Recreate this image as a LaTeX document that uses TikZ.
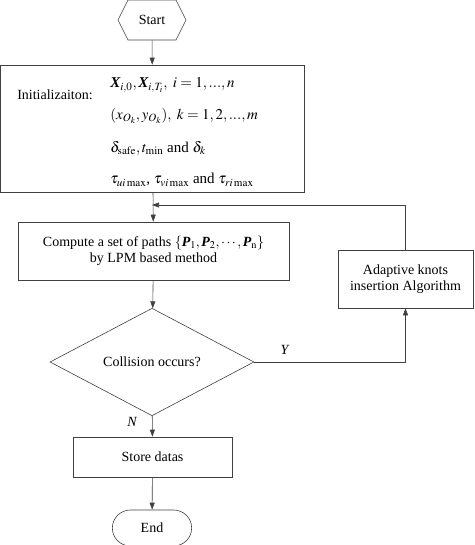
\documentclass[tikz,border=0pt]{standalone}
\usepackage{mathptmx}
\usepackage{fontspec}
\setmainfont{Liberation Serif}
\usetikzlibrary{shapes.geometric, shapes.symbols, shapes.misc, arrows.meta}

\newcommand{\bitvar}[1]{\mbox{\bfseries\itshape #1}}

\begin{document}
\begin{tikzpicture}[x=1pt, y=1pt, draw=black!75, line width=0.6pt, every node/.style={font=\fontsize{14}{16}\selectfont}]
    \tikzstyle{block}=[rectangle, draw=black!75, line width=0.6pt, align=center]  % plain process box
    \tikzstyle{startbox}=[signal, signal to=east and west, signal pointer angle=127, draw=black!75, line width=0.6pt, minimum width=68, minimum height=40, inner sep=0pt]
    \tikzstyle{endbox}=[rounded rectangle, draw=black!75, line width=0.6pt, minimum width=86, minimum height=36]
    \tikzstyle{decision}=[diamond, draw=black!75, line width=0.6pt, minimum width=204, minimum height=88, inner sep=0pt]
    \tikzstyle{flow}=[-{Triangle[length=7pt, width=5pt]}]
    \tikzstyle{inittext}=[anchor=west, inner sep=0pt, font=\fontsize{15}{17}\selectfont]

    \useasboundingbox (0,0) rectangle (474,-545);

    % Start and initialization
    \node[startbox] (start) at (152,-20) {Start};
    \node[block, minimum width=304, minimum height=127] (init) at (152.5,-128.5) {};
    \node[inittext, font=\fontsize{14}{16}\selectfont] (init-label) at (17,-95) {Initializaiton:};
    \node[inittext] (init-1) at (110,-85) {$\bitvar{X}_{i,0}, \bitvar{X}_{i,T_i},\ i=1,...,n$};
    \node[inittext] (init-2) at (110,-116) {$(x_{O_k}, y_{O_k}),\ k=1,2,...,m$};
    \node[inittext] (init-3) at (110,-148) {$\delta_{\mathrm{safe}}, t_{\min}$ and $\delta_k$};
    \node[inittext] (init-4) at (110,-180) {$\tau_{ui\max}$, $\tau_{vi\max}$ and $\tau_{ri\max}$};

    % Path computation and check
    \node[block, minimum width=271, minimum height=58] (compute) at (153.5,-251) {Compute a set of paths $\{\bitvar{P}_1,\bitvar{P}_2,\cdots,\bitvar{P}_{\mathrm{n}}\}$\\ by LPM based method};
    \node[decision] (collision) at (152,-362) {Collision occurs?};
    \node[block, minimum width=135, minimum height=58] (adaptive) at (405.5,-279) {Adaptive knots\\ insertion Algorithm};

    % Output
    \node[block, minimum width=159, minimum height=40] (store) at (152.5,-457) {Store datas};
    \node[endbox] (end) at (152,-528) {End};

    \coordinate (loop-in) at (152,-205);
    \coordinate (loop-turn) at (405.5,-205);
    \coordinate (yes-turn) at (405.5,-362);

    % Connect the steps
    \draw[flow] (start) -- (init);
    \draw[flow] (init) -- (compute);
    \draw[flow] (compute) -- (collision);
    \draw[flow] (collision) -- node[pos=0.3, left=12pt, font=\fontsize{14}{16}\selectfont\itshape] (no-label) {N} (store);
    \draw[flow] (store) -- (end);

    % Feedback loop
    \draw[flow] (collision.east) -- node[pos=0.2, above=4pt, font=\fontsize{14}{16}\selectfont\itshape] (yes-label) {Y} (yes-turn) -- (adaptive.south);
    \draw[flow] (adaptive.north) -- (loop-turn) -- (loop-in);

\end{tikzpicture}
\end{document}
